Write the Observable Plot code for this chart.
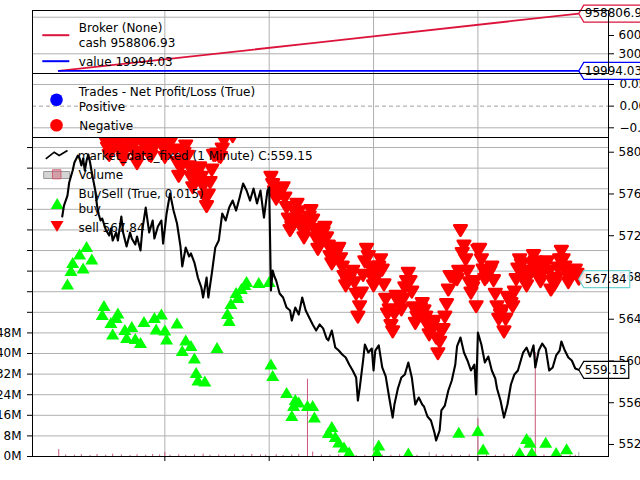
<!DOCTYPE html>
<html><head><meta charset="utf-8">
<script src="https://cdn.jsdelivr.net/npm/d3@7"></script>
<script src="https://cdn.jsdelivr.net/npm/@observablehq/plot@0.6"></script>
<style>
html,body{margin:0;padding:0;background:#fff;overflow:hidden;width:640px;height:480px}
#wrap{position:relative;width:640px;height:480px}
#wrap > svg{position:absolute;left:0}
</style></head><body><div id="wrap"></div>
<script>
// ---------- data ----------
const timeTicks = [60, 120, 180, 240];            // minute index of the vertical grid
const closeT = [1,2,4,5,6,7,8,10,11,12,13,14,15,16,17,18,20,21,22,23,24,26,28,29,30,32,33,35,36,38,40,41,43,44,46,47,49,51,53,54,56,58,59,61,63,65,67,69,70,72,74,75,77,79,81,82,84,85,87,89,91,93,95,97,99,101,103,104,105,107,109,111,113,115,117,119,120,121,122,123,124,126,128,130,132,133,135,137,139,141,143,145,147,149,151,153,154,156,158,160,162,164,166,168,170,171,172,174,175,177,179,180,181,183,185,187,189,191,192,194,196,198,200,202,204,206,208,209,211,213,215,216,218,219,221,223,225,227,228,230,232,234,236,238,239,240,242,244,246,248,250,251,253,255,257,259,261,263,265,266,268,270,272,273,275,277,279,281,283,285,287,288,290,292,294,296,298];
const closeV = [573.84,574.89,575.85,577.10,577.67,578.25,579.01,579.68,579.40,578.73,
579.40,578.25,579.20,579.78,579.01,578.06,576.33,574.89,574.03,573.46,
573.65,572.60,572.02,572.69,571.54,572.31,571.54,573.84,572.31,570.97,
572.31,571.73,571.16,571.92,570.58,572.50,574.70,572.31,573.46,571.73,
572.88,573.46,571.25,574.13,576.04,574.41,573.17,570.97,569.05,570.87,
570.01,570.30,569.43,567.99,567.04,566.08,567.99,566.08,568.38,570.87,
571.54,574.13,573.46,574.70,575.37,574.41,575.66,576.33,577.00,576.33,
575.37,576.52,575.09,576.33,573.74,576.33,576.62,566.75,568.67,568.09,
567.71,566.46,566.08,565.12,564.84,563.88,565.12,564.45,566.08,564.84,
564.16,563.50,562.92,563.50,563.12,562.16,561.97,562.92,561.29,561.00,
560.62,560.33,559.66,559.09,558.42,556.21,557.36,560.05,561.58,560.81,
561.19,559.09,561.00,561.49,559.38,558.52,556.50,554.58,555.83,557.36,
558.42,558.71,559.85,558.42,555.83,556.50,555.83,555.64,554.68,554.30,
553.15,552.38,553.34,555.26,555.73,557.17,558.13,559.66,561.39,562.25,
560.81,560.05,559.09,559.66,556.79,562.73,561.58,559.85,560.43,559.09,
558.32,557.36,556.21,554.58,555.83,557.75,558.71,559.09,560.24,560.81,
561.29,560.43,561.49,559.38,561.00,561.67,561.19,559.09,559.38,560.53,
561.00,561.87,561.00,560.33,560.05,559.28,559.15];
// one sell marker per bar (bars 1..298)
const sellV = [582.54,583.59,582.39,584.55,585.80,586.37,586.95,587.71,586.51,588.38,588.10,587.43,588.10,586.95,587.90,588.48,587.71,586.76,583.83,585.03,583.59,582.73,
581.9,582.4,581.7,581.0,580.4,579.7,580.2,580.8,581.4,582.0,
581.4,580.7,579.9,579.3,580.1,580.7,581.4,582.0,581.3,580.6,
579.8,578.9,579.5,580.0,580.9,581.7,581.1,580.6,579.7,579.6,
580.2,581.0,581.6,582.3,581.8,581.2,580.4,579.5,580.2,580.9,
581.7,582.4,581.4,580.2,579.0,577.7,578.5,579.1,579.9,580.6,
579.6,578.6,577.6,576.6,577.2,577.7,578.1,578.5,577.6,576.7,
575.7,574.8,575.9,577.1,578.3,579.7,579.7,579.8,579.6,579.5,
580.3,581.1,582.0,582.6,582.2,581.9,581.5,
582.4,583.11,582.4,584.36,585.03,585.70,583.83,585.03,582.87,584.07,582.87,585.22,582.59,583.79,582.59,585.03,582.3,582.44,582.4,585.03,585.32,
577.6,576.9,576.2,575.5,575.8,576.0,576.3,576.6,575.6,574.7,
573.6,572.5,572.8,573.5,574.2,575.0,574.3,573.5,572.6,571.8,
572.5,573.2,573.8,574.4,573.5,572.6,571.7,570.7,571.2,571.8,
572.3,572.8,571.8,571.0,570.0,569.3,569.6,570.1,570.5,570.8,
569.8,569.0,568.1,567.2,567.5,567.8,568.2,568.6,567.5,566.4,
564.2,565.2,566.5,568.2,569.5,570.7,570.0,569.0,568.0,567.2,
567.8,568.4,569.0,569.7,568.7,567.3,565.9,564.5,564.9,563.4,
562.8,564.5,566.2,565.7,565.6,564.9,565.9,567.0,567.6,568.4,
567.6,566.6,565.1,563.6,564.2,564.7,565.0,565.5,564.8,564.2,
563.4,562.5,563.0,563.4,563.8,562.2,560.7,561.8,562.9,563.0,
564.2,565.4,566.8,568.1,568.1,568.0,567.9,567.8,568.6,572.5,
570.3,571.0,569.7,568.6,567.5,566.5,567.0,567.6,565.2,570.6,
570.7,569.7,568.7,567.8,568.0,568.3,568.6,569.0,567.7,566.4,
565.2,564.0,564.4,564.8,562.8,564.0,566.1,565.8,565.5,565.2,
566.6,567.8,568.8,569.7,569.2,568.6,567.9,567.2,568.0,568.6,
569.3,570.1,569.5,568.8,568.1,567.6,568.4,569.0,569.3,569.5,
568.6,566.8,567.6,567.3,567.9,568.9,569.7,570.5,569.7,569.0,
568.3,567.5,568.0,568.3,568.4,568.7,568.3,567.84];
const sellT = sellV.map((_, i) => i + 1);          // bar number of each sell
const buyT = [4,6,7,11,13,15,18,24,25,29,30,32,33,37,38,41,43,46,48,54,55,58,60,61,67,70,72,75,77,78,79,83,90,96,97,98,101,102,104,106,107,114,120,121,122,130,133,134,135,137,142,145,146,154,156,158,160,163,166,182,183,200,229,240,243,264,268,270,271,279,285,291];
const buyV = [567.37,568.67,569.43,570.25,568.91,570.97,569.77,564.45,565.31,563.69,562.58,564.16,564.60,563.01,562.25,563.30,562.15,561.77,563.78,564.16,563.06,564.50,562.97,562.10,563.64,561.00,562.01,561.48,560.28,558.90,558.18,558.08,561.29,564.55,563.88,565.51,566.56,566.08,566.94,567.33,567.61,567.52,567.61,559.71,558.61,556.98,554.78,555.73,556.31,556.07,555.73,555.73,554.63,553.15,553.72,552.76,552.24,551.76,551.28,551.23,551.95,551.18,553.17,553.34,551.57,551.23,552.57,552.22,551.23,552.22,551.23,551.59];
const volDownT = [-1,3,8,12,17,21,26,30,35,40,44,49,53,57,60,63,68,72,77,82,86,91,95,100,105,110,115,118,124,128,133,137,142,145,150,155,160,165,170,175,180,185,190,195,200,205,216,220,225,230,235,240,245,250,255,260,265,270,273,278,283,288,293,296];
const volDownV = [2.7,0.6,0.5,0.7,0.4,0.8,0.5,0.9,0.6,0.4,0.7,0.5,0.8,0.6,1.6,0.5,0.7,0.4,0.6,0.9,0.5,0.6,0.4,0.7,0.5,0.8,0.6,0.5,0.7,0.4,0.6,0.8,30,1.7,0.6,0.5,0.7,0.6,0.4,0.5,0.8,0.6,0.5,0.7,0.6,0.5,0.7,0.5,0.6,0.4,0.7,14.7,0.6,0.5,0.8,0.6,0.7,0.5,40.4,0.6,0.7,0.5,0.6,0.5];
const volUpT = [212, 298];
const volUpV = [1.6, 1.6];
const cashT = [-1, 150, 298];
const cashV = [20000, 491000, 958806.93];
const valueT = [-1, 298];
const valueV = [20000, 19994.03];
const brokerTicks = [0, 300000, 600000, 900000];
const brokerGrid = [300000, 900000];
const tradeTicks = [-0.05, 0, 0.05];
const tradeGrid = [-0.05, 0.05];
const priceTicks = [552, 556, 560, 564, 568, 572, 576, 580];
const volTicks = [0,8,16,24,32,40,48,56,64,72,80,88,96,104,112,120];
const legendBroker = ["Broker (None)\ncash 958806.93", "value 19994.03"];
const legendTrades = ["Trades - Net Profit/Loss (True)\nPositive", "Negative"];
const legendMain = ["market_data_fixed (1 Minute) C:559.15", "Volume", "BuySell (True, 0.015)\nbuy", "sell 567.84"];

// ---------- helpers ----------
const zip = (ts, vs) => ts.map((t, i) => ({t, v: vs[i]}));
const xDomain = [-16.1, 315.1];
const grid = "#b0b0b0";
const css = "font-family:'DejaVu Sans';font-size:12px;overflow:visible;background:transparent;";
const hline = w => ({draw(c){ c.moveTo(-w/2, 0); c.lineTo(w/2, 0); }});
const tri = (w, h, down) => ({draw(c){ const s = down ? -1 : 1; c.moveTo(0, -s*h/2); c.lineTo(w/2, s*h/2); c.lineTo(-w/2, s*h/2); c.closePath(); }});
const rect = (w, h) => ({draw(c){ c.rect(-w/2, -h/2, w, h); }});
const tag = (w, h) => ({draw(c){ c.moveTo(0, 0); c.lineTo(5, -h/2); c.lineTo(w, -h/2); c.lineTo(w, h/2); c.lineTo(5, h/2); c.closePath(); }});
const zig = {draw(c){ c.moveTo(-10.7, 4.3); c.lineTo(-2.3, -2.3); c.lineTo(2.7, 1); c.lineTo(11, -4); }};
const lbl = (s, dx, dy, lh) => Plot.text([s], {frameAnchor: "top-left", dx, dy, textAnchor: "start", lineAnchor: "middle", lineHeight: lh || 1.25, fill: "black"});
const icon = (sym, dx, dy, o) => Plot.dot([0], {frameAnchor: "top-left", dx, dy, symbol: sym, ...o});
const lastTag = (ts, vs, w, color, fill, fo) => {
  const d = [{t: ts[ts.length-1], v: vs[vs.length-1]}];
  return [
    Plot.dot(d, {x: "t", y: "v", symbol: tag(w, 17), fill: fill, fillOpacity: fo, stroke: color, strokeWidth: 1.2}),
    Plot.text(d, {x: "t", y: "v", text: e => e.v.toFixed(2), dx: 6, textAnchor: "start", fill: "black"})
  ];
};

// ---------- panel 1 : broker ----------
const p1 = Plot.plot({
  width: 640, height: 73, marginTop: 10, marginBottom: 0, marginLeft: 32, marginRight: 32, style: css,
  x: {domain: xDomain, axis: null},
  y: {domain: [-23000, 1010000], axis: "right", ticks: brokerTicks, tickFormat: d => String(d), tickSize: 5, tickPadding: 5, label: null},
  marks: [
    Plot.ruleY(brokerGrid, {stroke: grid}),
    Plot.ruleX(timeTicks, {stroke: grid}),
    Plot.line(zip(cashT, cashV), {x: "t", y: "v", stroke: "#dc143c", strokeWidth: 1.8}),
    Plot.line(zip(valueT, valueV), {x: "t", y: "v", stroke: "#0000ff", strokeWidth: 1.8}),
    icon(hline(27), 23.3, 24.7, {stroke: "#dc143c", strokeWidth: 2, fill: "none"}),
    lbl(legendBroker[0], 46.3, 24.2, 1.25),
    icon(hline(27), 23.3, 50.7, {stroke: "#0000ff", strokeWidth: 2, fill: "none"}),
    lbl(legendBroker[1], 46.3, 51),
    ...lastTag(cashT, cashV, 90, "#dc143c", "white", 1),
    ...lastTag(valueT, valueV, 90, "#0000ff", "white", 1),
    Plot.frame({stroke: "black"})
  ]
});

// ---------- panel 2 : trades ----------
const p2 = Plot.plot({
  width: 640, height: 64, marginTop: 0, marginBottom: 0, marginLeft: 32, marginRight: 32,
  style: css.replace("background:transparent", "background:white"),
  x: {domain: xDomain, axis: null},
  y: {domain: [-0.0724, 0.0754], axis: "right", ticks: tradeTicks, tickFormat: d => (d < 0 ? "\u2212" : "") + Math.abs(d).toFixed(2), tickSize: 5, tickPadding: 6, label: null},
  marks: [
    Plot.ruleY(tradeGrid, {stroke: grid}),
    Plot.ruleX(timeTicks, {stroke: grid}),
    Plot.ruleY([0], {stroke: "#a0a0a0", strokeDasharray: "4,3"}),
    icon("circle", 24, 26.3, {r: 6.3, fill: "#0000ff", stroke: "none"}),
    lbl(legendTrades[0], 46.3, 25, 1.22),
    icon("circle", 24, 51.7, {r: 6.3, fill: "#ff0000", stroke: "none"}),
    lbl(legendTrades[1], 46.8, 51.7),
    Plot.frame({stroke: "black"})
  ]
});

// ---------- panel 3 : volume (bottom layer) ----------
const pv = Plot.plot({
  width: 640, height: 343, marginTop: 0, marginBottom: 24, marginLeft: 32, marginRight: 32,
  style: css.replace("background:transparent", "background:white"),
  x: {domain: xDomain, ticks: timeTicks, tickFormat: () => "", tickSize: 5, label: null},
  y: {domain: [0, 123.9], axis: "left", ticks: volTicks, tickFormat: d => d <= 48 ? d + "M" : "", tickSize: 5, tickPadding: 6, label: null},
  marks: [
    Plot.ruleY(volTicks, {stroke: grid}),
    Plot.ruleX(timeTicks, {stroke: grid}),
    Plot.ruleX(zip(volDownT, volDownV), {x: "t", y1: 0, y2: "v", stroke: "#c8587a", strokeWidth: 1}),
    Plot.ruleX(zip(volUpT, volUpV), {x: "t", y1: 0, y2: "v", stroke: "#aaaaaa", strokeWidth: 1})
  ]
});

// ---------- panel 3 : price (top layer) ----------
const pp = Plot.plot({
  width: 640, height: 343, marginTop: 0, marginBottom: 24, marginLeft: 32, marginRight: 32, style: css,
  x: {domain: xDomain, axis: null},
  y: {domain: [550.85, 581.41], axis: "right", ticks: priceTicks, tickFormat: d => String(d), tickSize: 5, tickPadding: 5, label: null},
  marks: [
    Plot.dot(zip(sellT, sellV), {x: "t", y: "v", symbol: tri(12.5, 10.5, true), fill: "#ff0000", stroke: "#ff0000", strokeWidth: 2.6, strokeLinejoin: "round", clip: true}),
    Plot.dot(zip(buyT, buyV), {x: "t", y: "v", symbol: tri(13, 11, false), fill: "#00ff00", stroke: "none", clip: true}),
    icon(zig, 24, 17, {stroke: "black", strokeWidth: 1.7, fill: "none"}),
    lbl(legendMain[0], 45.3, 18),
    icon(rect(26, 7), 24.2, 37.5, {fill: "#aaaaaa", fillOpacity: 0.5, stroke: "#999999", strokeWidth: 1}),
    icon(rect(8.5, 9), 24.2, 36.8, {fill: "#cc6073", fillOpacity: 0.45, stroke: "#cc6073", strokeWidth: 1}),
    lbl(legendMain[1], 46, 37),
    icon(tri(13, 11, false), 24.7, 66, {fill: "#00ff00", stroke: "none"}),
    lbl(legendMain[2], 46, 63, 1.28),
    icon(tri(13, 11, true), 24.5, 89, {fill: "#ff0000", stroke: "none"}),
    lbl(legendMain[3], 46, 89.7),
    Plot.line(zip(closeT, closeV), {x: "t", y: "v", stroke: "black", strokeWidth: 2.1}),
    ...lastTag(sellT, sellV, 51, "#6fd3d3", "white", 0.88),
    ...lastTag(closeT, closeV, 50, "black", "white", 1),
    Plot.frame({stroke: "black"})
  ]
});

const wrap = document.getElementById("wrap");
[[pv, 137], [pp, 137], [p2, 73], [p1, 0]].forEach(([el, top]) => { el.style.top = top + "px"; wrap.appendChild(el); });
</script></body></html>
